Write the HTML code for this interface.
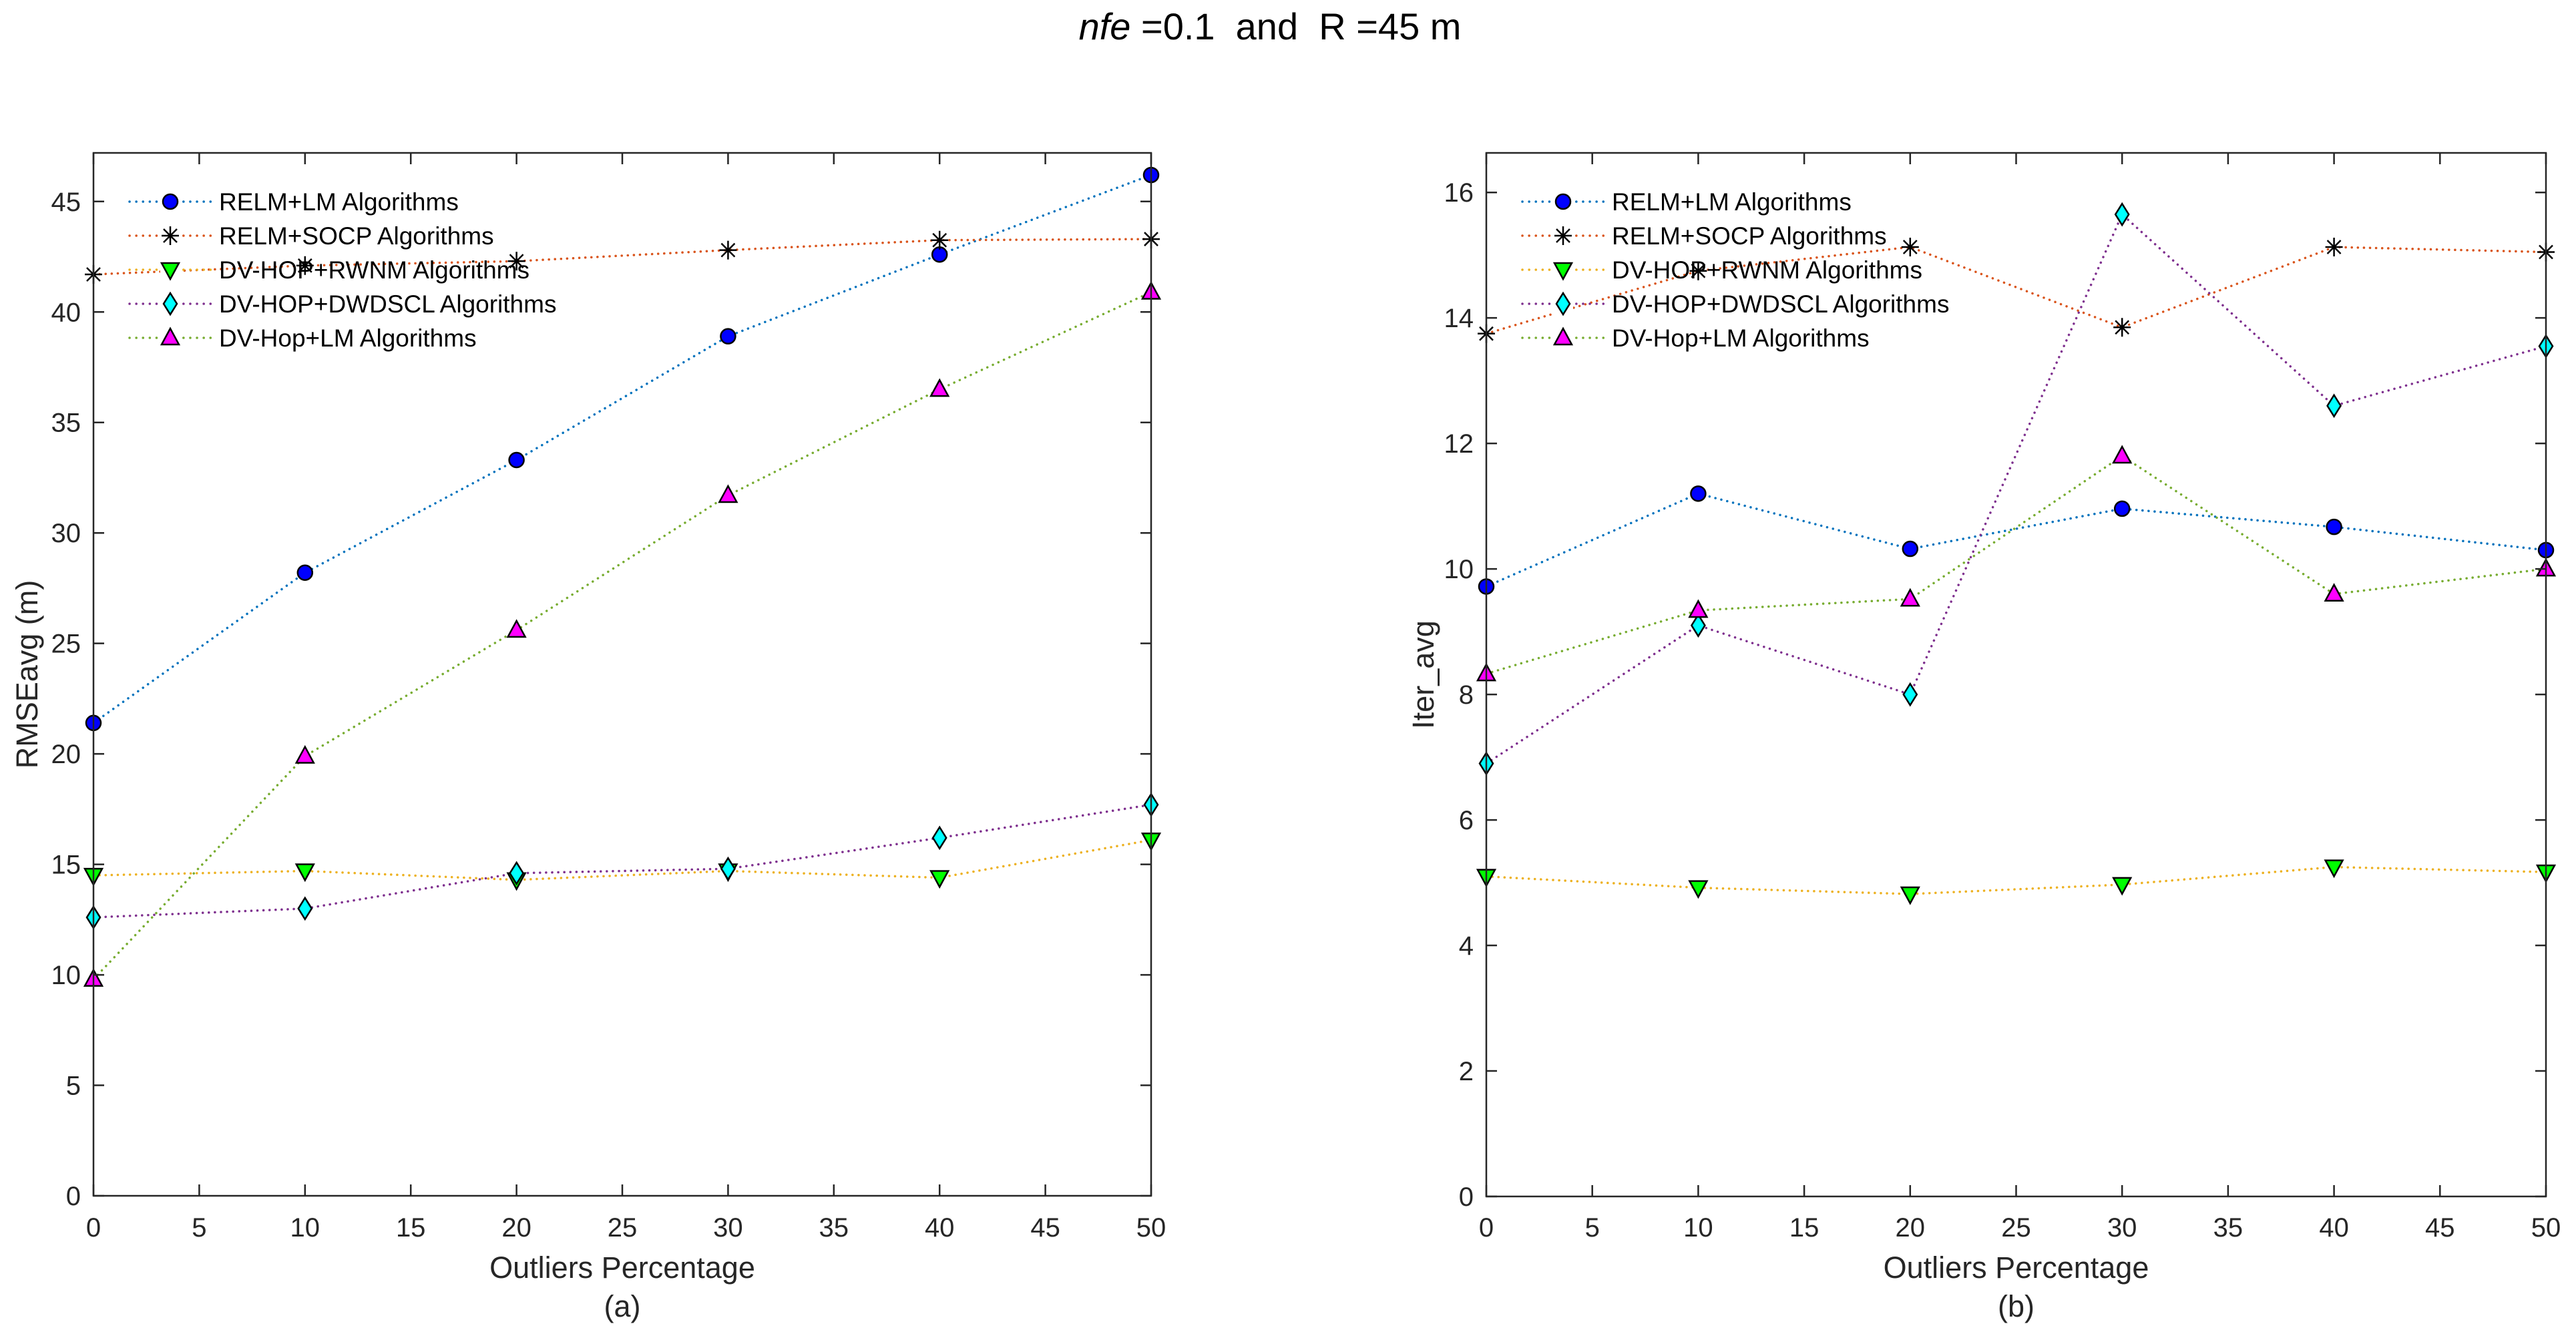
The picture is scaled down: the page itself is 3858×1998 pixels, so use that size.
<!DOCTYPE html>
<html><head><meta charset="utf-8"><style>
html,body{margin:0;padding:0;background:#fff;}
svg{display:block;font-family:"Liberation Sans",Arial,sans-serif;}
</style></head><body>
<svg id="fig" width="3858" height="1998" viewBox="0 0 3858 1998" xmlns="http://www.w3.org/2000/svg">
<rect width="3858" height="1998" fill="#fff"/>
<text x="1902" y="59" font-size="56" text-anchor="middle" fill="#000" style="white-space:pre"><tspan font-style="italic">nfe</tspan> =0.1&#160; and&#160; R =45 m</text>
</svg>
<script>
const xCategories = [0, 10, 20, 30, 40, 50];
const seriesNames = ["RELM+LM Algorithms","RELM+SOCP Algorithms","DV-HOP+RWNM Algorithms","DV-HOP+DWDSCL Algorithms","DV-Hop+LM Algorithms"];
const xTicks = [0,5,10,15,20,25,30,35,40,45,50];
// panel (a) RMSEavg
const rmseRelmLm   = [21.4, 28.2, 33.3, 38.9, 42.6, 46.2];
const rmseRelmSocp = [41.7, 42.1, 42.3, 42.8, 43.25, 43.3];
const rmseRwnm     = [14.5, 14.7, 14.3, 14.7, 14.4, 16.1];
const rmseDwdscl   = [12.6, 13.0, 14.6, 14.8, 16.2, 17.7];
const rmseDvLm     = [9.8, 19.9, 25.6, 31.7, 36.5, 40.9];
const yTicksA = [0,5,10,15,20,25,30,35,40,45];
// panel (b) Iter_avg
const iterRelmLm   = [9.72, 11.2, 10.32, 10.96, 10.67, 10.3];
const iterRelmSocp = [13.75, 14.75, 15.13, 13.85, 15.13, 15.05];
const iterRwnm     = [5.1, 4.92, 4.82, 4.97, 5.25, 5.17];
const iterDwdscl   = [6.9, 9.1, 8.0, 15.65, 12.6, 13.55];
const iterDvLm     = [8.33, 9.34, 9.52, 11.8, 9.6, 10.0];
const yTicksB = [0,2,4,6,8,10,12,14,16];

const NS="http://www.w3.org/2000/svg";
const svg=document.getElementById('fig');
const lineColors=["#0072BD","#D95319","#EDB120","#7E2F8E","#77AC30"];
const markers=["circle","star","tridown","diamond","triup"];
const fills=["#0000ff","none","#00ff00","#00ffff","#ff00ff"];
function mk(tag,attrs,parent){const e=document.createElementNS(NS,tag);for(const k in attrs)e.setAttribute(k,attrs[k]);(parent||svg).appendChild(e);return e;}
function marker(g,type,cx,cy,fill){
  let e;
  if(type==="circle"){e=mk('ellipse',{cx:cx,cy:cy,rx:11,ry:11,fill:fill,stroke:'#000','stroke-width':2.5},g);}
  else if(type==="star"){e=mk('path',{d:`M${cx-13} ${cy}H${cx+13}M${cx} ${cy-14}V${cy+14}M${cx-10} ${cy-10}L${cx+10} ${cy+10}M${cx-10} ${cy+10}L${cx+10} ${cy-10}`,stroke:'#000','stroke-width':2.5,fill:'none'},g);}
  else if(type==="tridown"){e=mk('path',{d:`M${cx-13} ${cy-10}H${cx+13}L${cx} ${cy+14}Z`,fill:fill,stroke:'#000','stroke-width':2.5},g);}
  else if(type==="triup"){e=mk('path',{d:`M${cx-13} ${cy+10}H${cx+13}L${cx} ${cy-14}Z`,fill:fill,stroke:'#000','stroke-width':2.5},g);}
  else {e=mk('path',{d:`M${cx} ${cy-16}L${cx+10} ${cy}L${cx} ${cy+16}L${cx-10} ${cy}Z`,fill:fill,stroke:'#000','stroke-width':2.5},g);}
  
  
}
function panel(cfg){
  const {L,R,T,B,ymax,yTicks,series,ylabel,ycx,legX,id,sub}=cfg;
  const xs=v=>L+(v-0)/50*(R-L);
  const ys=v=>B-v/ymax*(B-T);
  const g=mk('g',{});
  
  
  series.forEach((vals,si)=>{
    const pts=vals.map((v,i)=>xs(xCategories[i]).toFixed(1)+','+ys(v).toFixed(1)).join(' ');
    const pl=mk('polyline',{points:pts,fill:'none',stroke:lineColors[si],'stroke-width':3.5,'stroke-dasharray':'0.1 9','stroke-linecap':'round'},g);
    
    
  });
  series.forEach((vals,si)=>{
    vals.forEach((v,i)=>marker(g,markers[si],xs(xCategories[i]),ys(v),fills[si]));
  });
  const box=mk('rect',{x:L,y:T,width:R-L,height:B-T,fill:'none',stroke:'#262626','stroke-width':2.5},g);
  
  
  xTicks.forEach(t=>{
    const x=xs(t);
    mk('path',{d:`M${x} ${B}V${B-17}M${x} ${T}V${T+17}`,stroke:'#262626','stroke-width':2.5},g);
    const tx=mk('text',{x:x,y:1852,'font-size':40,'text-anchor':'middle',fill:'#262626'},g);
    tx.textContent=t;
    
    
  });
  yTicks.forEach(t=>{
    const y=ys(t);
    mk('path',{d:`M${L} ${y}H${L+16}M${R} ${y}H${R-16}`,stroke:'#262626','stroke-width':2.5},g);
    const tx=mk('text',{x:L-19,y:y+14,'font-size':40,'text-anchor':'end',fill:'#262626'},g);
    tx.textContent=t;
    
    
  });
  const cx=(L+R)/2;
  const xl=mk('text',{x:cx,y:1914,'font-size':45,'text-anchor':'middle',fill:'#262626'},g);
  xl.textContent='Outliers Percentage';
  
  
  const sl=mk('text',{x:cx,y:1972,'font-size':45,'text-anchor':'middle',fill:'#262626'},g);
  sl.textContent=sub;
  
  
  const yl=mk('text',{x:ycx,y:(T+B)/2,'font-size':45,'text-anchor':'middle',fill:'#262626',transform:`rotate(-90 ${ycx} ${(T+B)/2}) translate(0 16)`},g);
  yl.textContent=ylabel;
  
  
  seriesNames.forEach((n,si)=>{
    const y=302+si*51;
    const lg=mk('g',{},g);
    
    
    mk('path',{d:`M${legX} ${y}H${legX+122}`,stroke:lineColors[si],'stroke-width':3.5,'stroke-dasharray':'0.1 10','stroke-linecap':'round'},lg);
    mk('rect',{x:legX+46,y:y-18,width:30,height:36,fill:'#fff'},lg);
    marker(lg,markers[si],legX+61,y,fills[si]);
    const t=mk('text',{x:legX+134,y:y+13,'font-size':37,fill:'#000'},lg);
    t.textContent=n;
  });
}
panel({L:140,R:1724,T:229,B:1791,ymax:47.2,yTicks:yTicksA,series:[rmseRelmLm,rmseRelmSocp,rmseRwnm,rmseDwdscl,rmseDvLm],ylabel:'RMSEavg (m)',ycx:40,legX:194,id:'rmse',sub:'(a)'});
panel({L:2226,R:3813,T:229,B:1792,ymax:16.63,yTicks:yTicksB,series:[iterRelmLm,iterRelmSocp,iterRwnm,iterDwdscl,iterDvLm],ylabel:'Iter_avg',ycx:2131,legX:2280,id:'iter',sub:'(b)'});
</script>
</body></html>
